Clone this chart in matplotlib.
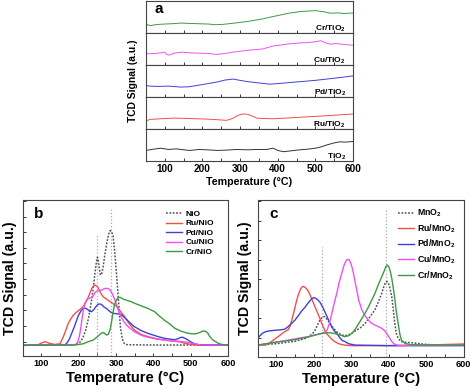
import matplotlib
matplotlib.use("Agg")
import matplotlib.pyplot as plt
from matplotlib.ticker import MultipleLocator

plt.rcParams.update({
    "font.family": ["Liberation Sans", "DejaVu Sans"],
    "font.weight": "bold",
    "axes.labelweight": "bold",
    "mathtext.fontset": "custom",
    "mathtext.rm": "Liberation Sans:bold",
    "mathtext.bf": "Liberation Sans:bold",
    "mathtext.it": "Liberation Sans:bold",
    "axes.linewidth": 0.8,
    "axes.edgecolor": "#444444",
})

RED, BLUE, MAG, GREEN, DARK = "#f0504c", "#4040d8", "#f050f0", "#3c9a44", "#555555"

# ---- panel a: TiO2 series (relative height inside each stripe) -------------------------------
a_labels = ["Cr/TiO$_2$", "Cu/TiO$_2$", "Pd/TiO$_2$", "Ru/TiO$_2$", "TiO$_2$"]
a_colors = [GREEN, MAG, BLUE, RED, "#333333"]

cr_tio2_t = [50, 55, 62, 70, 85, 100, 120, 143, 165, 190, 215, 235, 255, 270, 285, 300, 320, 340,
             360, 374, 390, 410, 430, 454, 470, 489, 500, 512, 525, 533, 545, 560, 575, 590, 600]
cr_tio2_s = [0.29, 0.25, 0.23, 0.25, 0.27, 0.28, 0.29, 0.31, 0.30, 0.29, 0.28, 0.26, 0.27, 0.29,
             0.31, 0.33, 0.36, 0.40, 0.44, 0.48, 0.52, 0.57, 0.62, 0.66, 0.68, 0.69, 0.70, 0.68,
             0.66, 0.63, 0.62, 0.63, 0.61, 0.62, 0.62]
cu_tio2_t = [50, 60, 75, 90, 100, 105, 112, 125, 145, 167, 190, 215, 238, 260, 280, 300, 330, 360,
             374, 390, 406, 430, 459, 480, 503, 515, 525, 539, 555, 570, 585, 600]
cu_tio2_s = [0.37, 0.35, 0.36, 0.38, 0.40, 0.33, 0.31, 0.37, 0.40, 0.38, 0.37, 0.36, 0.33, 0.36,
             0.40, 0.43, 0.47, 0.50, 0.55, 0.60, 0.62, 0.66, 0.69, 0.70, 0.73, 0.76, 0.70, 0.65,
             0.67, 0.65, 0.63, 0.62]
pd_tio2_t = [50, 60, 80, 110, 143, 165, 190, 215, 240, 260, 282, 300, 320, 350, 379, 410, 440, 470,
             500, 530, 560, 600]
pd_tio2_s = [0.36, 0.34, 0.33, 0.34, 0.31, 0.32, 0.37, 0.42, 0.47, 0.53, 0.56, 0.52, 0.48, 0.44,
             0.40, 0.43, 0.46, 0.49, 0.52, 0.56, 0.60, 0.66]
ru_tio2_t = [50, 60, 90, 122, 160, 211, 240, 264, 280, 295, 308, 320, 335, 344, 360, 388, 420, 450,
             477, 510, 550, 600]
ru_tio2_s = [0.25, 0.30, 0.32, 0.34, 0.33, 0.31, 0.29, 0.27, 0.33, 0.43, 0.47, 0.46, 0.39, 0.34,
             0.33, 0.32, 0.34, 0.36, 0.38, 0.40, 0.43, 0.47]
tio2_t = [50, 70, 89, 110, 130, 150, 167, 190, 211, 240, 264, 290, 320, 344, 370, 388, 400, 415,
          430, 459, 480, 500, 512, 530, 548, 565, 580, 600]
tio2_s = [0.33, 0.37, 0.40, 0.36, 0.38, 0.35, 0.33, 0.36, 0.35, 0.33, 0.34, 0.36, 0.35, 0.36, 0.36,
          0.40, 0.33, 0.29, 0.31, 0.35, 0.37, 0.40, 0.43, 0.50, 0.56, 0.60, 0.59, 0.61]
a_series = [(cr_tio2_t, cr_tio2_s), (cu_tio2_t, cu_tio2_s), (pd_tio2_t, pd_tio2_s),
            (ru_tio2_t, ru_tio2_s), (tio2_t, tio2_s)]

# ---- panel b: NiO series ---------------------------------------------------------------------
nio_t = [50, 150, 190, 200, 207, 213, 219, 226, 232, 237, 241, 245, 248, 250, 252, 255, 258, 262,
         266, 270, 275, 280, 284, 288, 292, 296, 300, 304, 308, 312, 317, 322, 330, 400, 500, 600]
nio_s = [7.2, 7.2, 7.4, 8.2, 10, 13, 17, 24, 32, 40, 48, 56, 61, 63.3, 62, 57, 52, 53, 58, 65, 72,
         78, 80.4, 80, 77, 68, 57, 44, 31, 18, 11, 8.2, 7.4, 7.2, 7.2, 7.2]
ru_nio_t = [50, 90, 100, 110, 120, 135, 150, 159, 166, 172, 179, 186, 193, 199, 206, 212, 219, 226,
            231, 235, 240, 244, 249, 253, 260, 266, 275, 284, 293, 302, 311, 320, 335, 349, 367,
            385, 410, 430, 450, 466, 475, 484, 500, 520, 600]
ru_nio_s = [7, 7.2, 8.5, 9.4, 8.4, 7.6, 8, 12.6, 17, 21, 24, 26.4, 28, 29.2, 30.5, 31.8, 34.5, 38,
            41, 43.5, 45, 45.6, 44.8, 43.5, 40, 38, 36.5, 35, 33.5, 31.8, 29, 26.4, 21, 16.8, 14,
            12.6, 11.2, 10.4, 9.8, 9.4, 9, 8.3, 7.6, 7.2, 7.2]
pd_nio_t = [50, 150, 163, 168, 175, 180, 186, 193, 199, 206, 212, 218, 224, 229, 235, 241, 247,
            252, 257, 262, 268, 275, 284, 293, 302, 311, 320, 335, 349, 367, 385, 410, 430, 445,
            457, 466, 472, 478, 484, 493, 502, 511, 529, 600]
pd_nio_s = [7, 7.2, 7.4, 8.3, 11, 14, 17.5, 22, 26, 29, 30.5, 30.8, 30, 28.8, 28.6, 30, 32, 33.3,
            33.5, 33, 31.5, 30.5, 28.5, 27.5, 27.2, 27, 25.5, 22, 19, 16.5, 14.7, 12.8, 11.5, 11,
            10.6, 11.2, 12, 12.2, 11.6, 10.4, 9, 7.9, 7.2, 7.2]
cu_nio_t = [50, 180, 192, 197, 201, 205, 209, 213, 217, 221, 226, 231, 235, 240, 244, 250, 257,
            263, 268, 273, 279, 284, 290, 297, 304, 311, 320, 330, 340, 349, 367, 385, 410, 430,
            455, 475, 490, 502, 515, 529, 600]
cu_nio_s = [7, 7.2, 7.6, 9, 12, 17, 24, 30, 34, 36, 37, 37.2, 37.5, 39, 41, 41.8, 42, 42.6, 43.2,
            43.5, 43.3, 42.4, 40, 36, 31, 26.4, 22.5, 19.5, 17.5, 15.8, 13.5, 12.2, 11, 10.4, 9.8,
            9.4, 9, 8.3, 7.7, 7.2, 7.2]
cr_nio_t = [50, 190, 212, 225, 239, 250, 258, 264, 268, 272, 276, 279, 282, 285, 288, 292, 296,
            300, 304, 308, 311, 315, 320, 329, 340, 349, 360, 372, 385, 395, 403, 415, 430, 445,
            457, 475, 493, 511, 522, 533, 540, 546, 551, 558, 566, 574, 583, 592, 600]
cr_nio_s = [7, 7.2, 8, 9.3, 10.4, 12.5, 14.3, 15.2, 15, 14, 13.6, 14, 15.5, 18, 22, 28, 33, 35.5,
            37, 37.7, 37.7, 37.2, 36.5, 35.8, 35, 34, 33, 31.8, 30.7, 29.5, 28.6, 26, 23, 20.5,
            18, 16, 14.7, 14.3, 15, 16.2, 16, 14.8, 12.6, 10.8, 9.5, 8.3, 7.6, 7.2, 7.2]
b_series = [("NiO", nio_t, nio_s), ("Ru/NiO", ru_nio_t, ru_nio_s), ("Pd/NiO", pd_nio_t, pd_nio_s),
            ("Cu/NiO", cu_nio_t, cu_nio_s), ("Cr/NiO", cr_nio_t, cr_nio_s)]
b_marks = [250, 286]
b_mark_tops = [77.6, 94.7]

# ---- panel c: MnO2 series --------------------------------------------------------------------
mno2_t = [50, 100, 150, 180, 195, 203, 210, 216, 221, 226, 230, 235, 243, 252, 261, 274, 283, 292,
          301, 310, 320, 328, 337, 345, 354, 363, 372, 381, 387, 392, 396, 399, 403, 408, 412,
          416, 420, 425, 430, 434, 443, 461, 488, 523, 600]
mno2_s = [7.6, 8.5, 10, 12, 14.5, 17, 20.5, 23.5, 25, 25.7, 25.5, 24, 21.4, 18.5, 16, 14, 13.6, 14,
          15, 16.5, 18, 19.3, 21.5, 24, 27, 30, 35, 40.5, 45, 47.8, 48, 47, 44, 38.4, 30, 21.4,
          15, 12, 10.5, 9.8, 9.4, 9.1, 8.3, 7.6, 7.6]
ru_mno2_t = [50, 70, 79, 90, 105, 118, 132, 137, 141, 146, 150, 154, 159, 164, 168, 172, 176, 180,
             185, 190, 196, 203, 210, 216, 221, 228, 234, 243, 250, 256, 265, 274, 283, 295, 310,
             400, 500, 600]
ru_mno2_s = [7.6, 7.6, 8.3, 10.5, 13, 15.5, 17.5, 20, 23.6, 28, 32, 36, 40, 43, 44.6, 45, 44.5,
             43.5, 42, 39.5, 36, 32, 28, 24.5, 21.4, 17.5, 15, 12.5, 10.8, 9.8, 8.6, 7.9, 7.6,
             7.3, 7.2, 7.3, 7.6, 8.3]
pd_mno2_t = [50, 56, 62, 70, 78, 87, 100, 112, 123, 132, 141, 150, 159, 168, 176, 185, 192, 198.6,
             204, 210, 216, 223, 230, 239, 248, 255, 261, 270, 276, 283, 292, 310, 400, 500, 600]
pd_mno2_s = [12, 13.5, 15, 16, 16.5, 16.8, 17.1, 17.3, 17.8, 19.5, 21.5, 23.6, 26.5, 29.5, 31.6,
             34.5, 36.5, 37.8, 37.5, 36.5, 35, 32, 28.5, 23.6, 19, 16.5, 15, 12, 10.5, 9.8, 8.5,
             7.6, 7.2, 7.2, 7.2]
cu_mno2_t = [50, 100, 132, 160, 185, 203, 221, 230, 235, 241, 248, 254, 261, 267, 274, 280, 285,
             290, 294, 298, 302, 306, 310, 315, 320, 328, 336, 345, 354, 363, 372, 381, 388, 394.5,
             401, 408, 414, 421, 430, 500, 600]
cu_mno2_s = [7.6, 9.5, 10.8, 12, 13, 14, 15, 16, 17, 21, 27.8, 34, 40.5, 47, 53, 58, 61, 62.2, 62,
             60, 57, 53, 48, 42, 36, 30, 26.5, 23.6, 21.5, 20.4, 19.3, 18.3, 17, 15, 12.5, 9.8,
             8.4, 7.6, 7.4, 7.4, 7.6]
cr_mno2_t = [50, 100, 150, 185, 203, 220, 239, 250, 261, 272, 283, 292, 301, 310, 319, 328, 337,
             345, 354, 363, 372, 381, 388, 392, 396, 400, 404, 408, 412, 416, 420, 425, 430, 434,
             443, 460, 500, 600]
cr_mno2_s = [7.6, 9.5, 11, 12.8, 14, 15, 15.5, 15.2, 14.6, 13.8, 13, 13.5, 15, 17.5, 21, 24.5, 28,
             31.5, 36, 40.5, 46, 51, 55, 57.5, 58.6, 57.5, 54.5, 50, 44, 37, 29, 21.4, 14, 10.8,
             8.7, 7.8, 7.6, 7.6]
c_series = [("MnO$_2$", mno2_t, mno2_s), ("Ru/MnO$_2$", ru_mno2_t, ru_mno2_s),
            ("Pd/MnO$_2$", pd_mno2_t, pd_mno2_s), ("Cu/MnO$_2$", cu_mno2_t, cu_mno2_s),
            ("Cr/MnO$_2$", cr_mno2_t, cr_mno2_s)]
c_marks = [222.7, 392.6]
c_mark_tops = [70.3, 93.6]

series_styles = [dict(color=DARK, ls=(0, (1.2, 1.0)), lw=1.1), dict(color=RED), dict(color=BLUE),
                 dict(color=MAG), dict(color=GREEN)]

W, H = 474, 389
fig = plt.figure(figsize=(W / 100, H / 100), dpi=100)


def box(x0, y0, x1, y1):
    """pixel box (top-left origin) -> figure rect"""
    return [x0 / W, 1 - y1 / H, (x1 - x0) / W, (y1 - y0) / H]


def ticks(ax, size):
    ax.set_xlim(50, 600)
    ax.xaxis.set_major_locator(MultipleLocator(100))
    ax.xaxis.set_minor_locator(MultipleLocator(50))
    ax.tick_params(axis="x", which="both", direction="in", length=2.5, width=0.7,
                   labelsize=size, pad=2, colors="#333333", labelcolor="black")
    for lab in ax.get_xticklabels():
        lab.set_fontweight("bold")


# panel a: five stacked stripes
rows = []
for i, ((t, s), lab, col) in enumerate(zip(a_series, a_labels, a_colors)):
    ax = fig.add_axes(box(146, 1 + 32 * i, 353, 33 + 32 * i))
    ax.plot(t, s, color=col, lw=0.7)
    ax.set_ylim(0, 1)
    ax.set_yticks([])
    ticks(ax, 7.2)
    if i < 4:
        ax.tick_params(axis="x", labelbottom=False)
    ax.text(0.965, 0.14, lab, transform=ax.transAxes, ha="right", va="center", fontsize=6,
            fontweight="bold")
    rows.append(ax)
rows[0].text(0.04, 0.74, "a", transform=rows[0].transAxes, fontsize=11, va="center",
             fontweight="bold")
rows[-1].set_xlabel("Temperature (°C)", fontsize=7.7, labelpad=2, fontweight="bold")
fig.text(133 / W, 1 - 81 / H, "TCD Signal (a.u.)", rotation=90, ha="center", va="center",
         fontsize=7.4, fontweight="bold")


def panel(rect, series, marks, tops, letter, ytick0, ystep, leg_anchor, leg_size, leg_space):
    ax = fig.add_axes(rect)
    for m, top in zip(marks, tops):
        ax.vlines(m, 0, top, color="#aaaaaa", ls=":", lw=0.9)
    for (lab, t, s), st in zip(series, series_styles):
        kw = dict(lw=1.0)
        kw.update(st)
        ax.plot(t, s, label=lab, **kw)
    ax.set_ylim(0, 100)
    ticks(ax, 6.6)
    ax.set_yticks([ytick0 + ystep * k for k in range(int((100 - ytick0) / ystep) + 1)])
    ax.tick_params(axis="y", direction="in", length=2.5, width=0.7, labelleft=False,
                   colors="#333333")
    ax.set_xlabel("Temperature (°C)", fontsize=10.5, labelpad=2, fontweight="bold")
    ax.set_ylabel("TCD Signal (a.u.)", fontsize=10.2, labelpad=4, fontweight="bold")
    ax.text(0.055, 0.91, letter, transform=ax.transAxes, fontsize=11, va="center",
            fontweight="bold")
    ax.legend(loc="upper left", bbox_to_anchor=leg_anchor, frameon=False,
              prop=dict(size=leg_size, weight="bold"),
              handlelength=1.9, handletextpad=0.35, labelspacing=leg_space, borderpad=0,
              borderaxespad=0)
    return ax


panel(box(22.7, 200, 228, 356.3), b_series, b_marks, b_mark_tops, "b", 9.4, 10,
      (0.70, 0.935), 6.0, 0.2)
panel(box(257.7, 200, 463.7, 357), c_series, c_marks, c_mark_tops, "c", 12.3, 12.4,
      (0.68, 0.95), 6.3, 0.35)

fig.savefig("out.png", dpi=100)
